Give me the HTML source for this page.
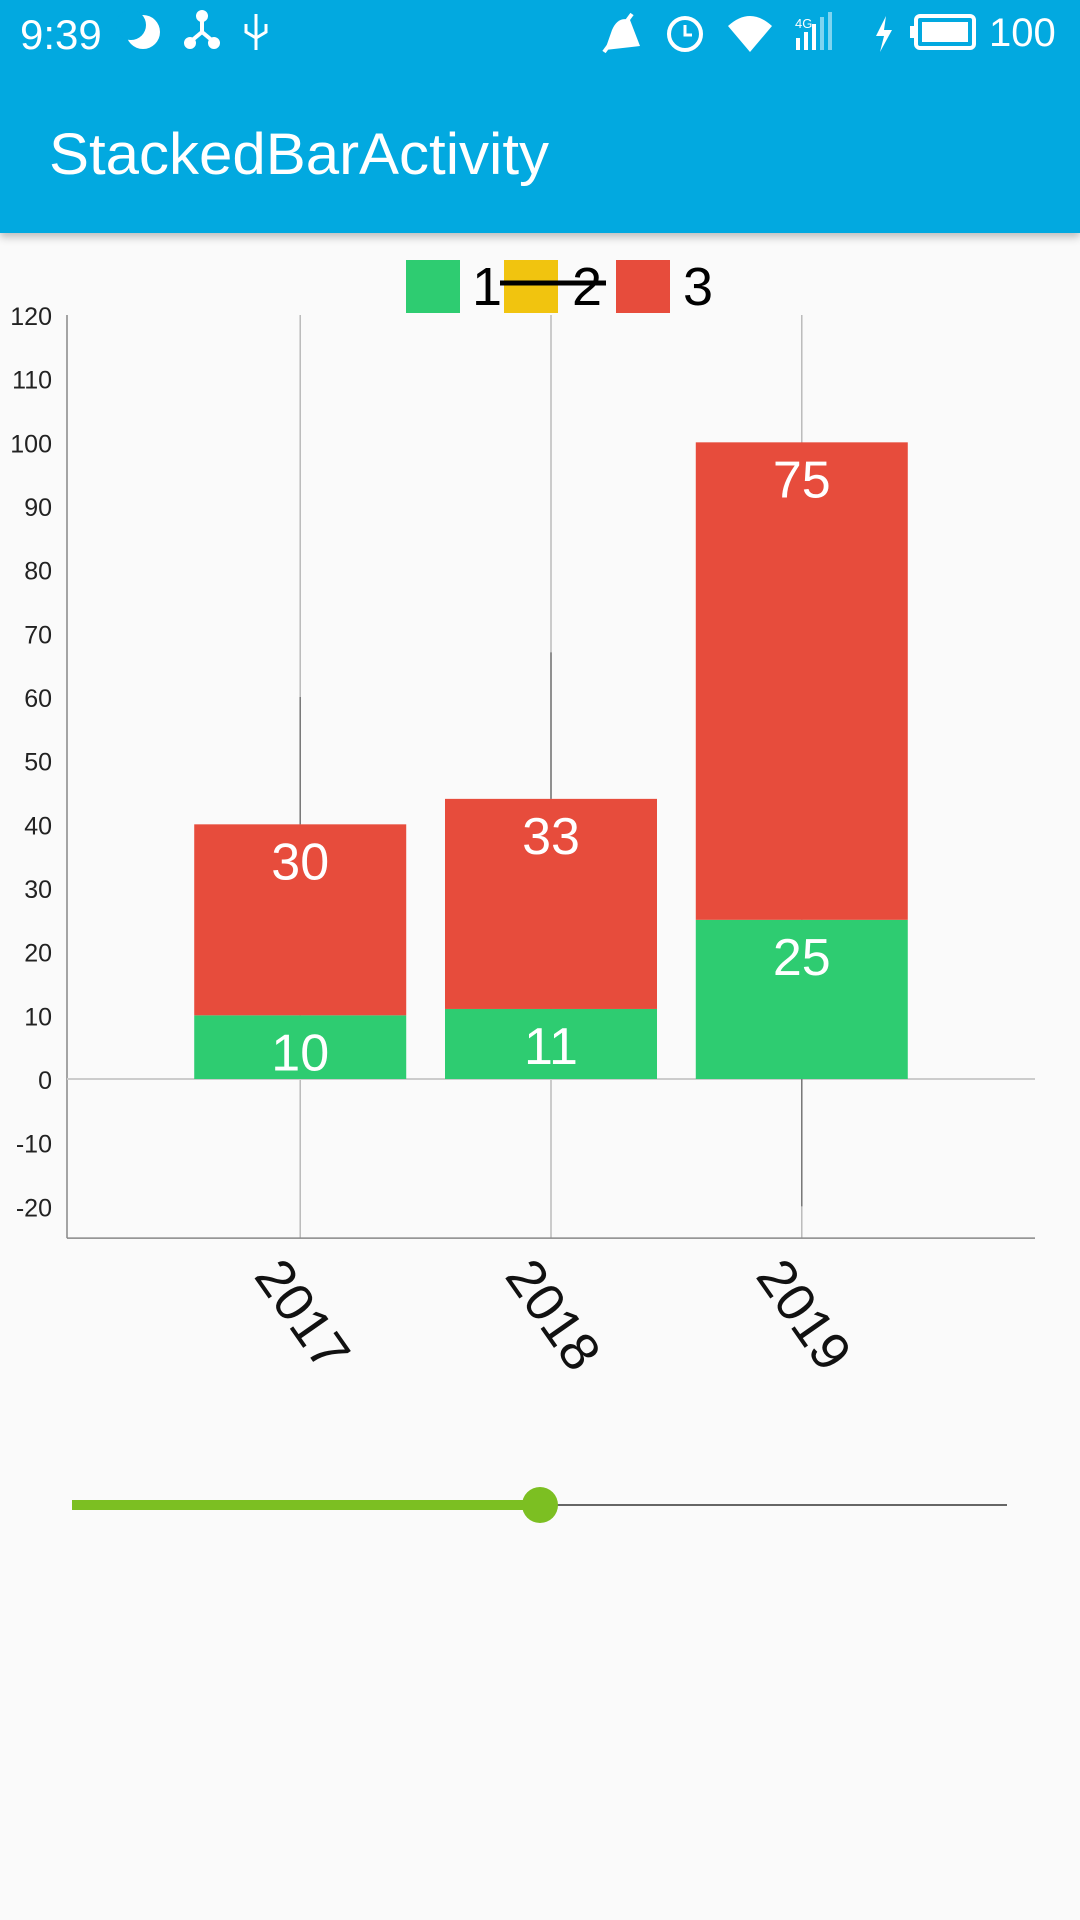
<!DOCTYPE html>
<html><head><meta charset="utf-8">
<style>
html,body{margin:0;padding:0;background:#fafafa;width:1080px;height:1920px;overflow:hidden;font-family:"Liberation Sans",sans-serif;}
#appbar{position:absolute;left:0;top:0;width:1080px;height:233px;background:#02a9e0;box-shadow:0 4px 8px rgba(0,0,0,0.25);}
svg{position:absolute;left:0;top:0;}
</style></head>
<body>
<div id="appbar"></div>
<svg width="1080" height="1920" id="root">
  <g fill="#fff">
    <text x="20" y="49" font-size="42" fill="#fff">9:39</text>
    <circle cx="143" cy="32" r="17" fill="#fff"/>
    <circle cx="131" cy="25" r="15" fill="#02a9e0"/>
    <g stroke="#fff" stroke-width="4">
      <line x1="202" y1="32" x2="202" y2="16"/><line x1="202" y1="32" x2="190" y2="42"/><line x1="202" y1="32" x2="214" y2="42"/>
      <circle cx="202" cy="16" r="4"/><circle cx="190" cy="43" r="4"/><circle cx="214" cy="43" r="4"/>
    </g>
    <g stroke="#fff" stroke-width="3">
      <line x1="256" y1="14" x2="256" y2="50"/><path d="M246 24v8l10 6 10-6v-8" fill="none"/>
    </g>
    <path d="M605 50 L612 30 Q618 16 630 20 L640 46 Z"/>
    <line x1="604" y1="52" x2="632" y2="14" stroke="#fff" stroke-width="4"/>
    <circle cx="685" cy="34" r="16" fill="none" stroke="#fff" stroke-width="4"/>
    <path d="M685 25v10h7" fill="none" stroke="#fff" stroke-width="3"/>
    <path d="M728 26 Q750 6 772 26 L750 52 Z" fill="#fff"/>
    <g>
      <text x="795" y="28" font-size="13" fill="#fff">4G</text>
      <rect x="796" y="38" width="4" height="12"/><rect x="804" y="32" width="4" height="18"/><rect x="812" y="24" width="4" height="26"/>
      <rect x="820" y="17" width="4" height="33" fill="#7fd4f0"/><rect x="828" y="12" width="4" height="38" fill="#7fd4f0"/>
    </g>
    <path d="M886 16 L876 36 L884 36 L880 52 L892 30 L884 30 Z"/>
    <rect x="916" y="16" width="58" height="32" rx="4" fill="none" stroke="#fff" stroke-width="4"/>
    <rect x="922" y="22" width="46" height="20"/><rect x="910" y="26" width="5" height="12"/>
    <text x="989" y="46" font-size="40" fill="#fff">100</text>
  </g>
  <text x="49" y="174" font-size="58" fill="#fff" textLength="500" lengthAdjust="spacingAndGlyphs">StackedBarActivity</text>

  <g>
    <rect x="406" y="260" width="54" height="53" fill="#2ecc71"/>
    <text x="472" y="305" font-size="54" fill="#000">1</text>
    <rect x="504" y="260" width="54" height="53" fill="#f1c40f"/>
    <text x="572" y="305" font-size="54" fill="#000">2</text>
    <line x1="500" y1="283" x2="606" y2="283" stroke="#000" stroke-width="5"/>
    <rect x="616" y="260" width="54" height="53" fill="#e74c3c"/>
    <text x="683" y="305" font-size="54" fill="#000">3</text>
  </g>
  <g id="chart"></g>

  <g>
    <line x1="540" y1="1505" x2="1007" y2="1505" stroke="#666" stroke-width="2"/>
    <line x1="72" y1="1505" x2="540" y2="1505" stroke="#7cbf22" stroke-width="10"/>
    <circle cx="540" cy="1505" r="18" fill="#7cbf22"/>
  </g>
</svg>
<script>
const categories = ["2017","2018","2019"];
const series1 = [10, 11, 25];
const series2 = [0, 0, 0];
const series3 = [30, 33, 75];
const errLow = [40, 44, -20];
const errHigh = [60, 67, 0];
const yTicks = [120,110,100,90,80,70,60,50,40,30,20,10,0,-10,-20];

const NS = "http://www.w3.org/2000/svg";
const chartG = document.getElementById('chart');
const plotLeft = 67, plotRight = 1035, plotTop = 315;
const yMin = -25, xMin = -0.93, xMax = 2.93;
const zeroPx = 1079, perUnit = (1079 - 315) / 120;
function yScale(v){ return zeroPx - v * perUnit; }
function xScale(i){ return plotLeft + (i - xMin) / (xMax - xMin) * (plotRight - plotLeft); }
const barW = 212;
function mk(tag, attrs){ const e = document.createElementNS(NS, tag); for (const k in attrs) e.setAttribute(k, attrs[k]); chartG.appendChild(e); return e; }

yTicks.forEach(t => {
  const e = mk('text', {x: 52, y: yScale(t) + 10, 'font-size': 25, 'text-anchor': 'end', fill: '#222'});
  e.textContent = t;
  
  
});
const yAxis = mk('line', {x1: plotLeft, y1: plotTop, x2: plotLeft, y2: yScale(yMin), stroke: '#888', 'stroke-width': 1.5});


categories.forEach((c, i) => {
  const gl = mk('line', {x1: xScale(i), y1: plotTop, x2: xScale(i), y2: yScale(yMin), stroke: '#bbb', 'stroke-width': 1.5});
  
  
});
const zl = mk('line', {x1: plotLeft, y1: yScale(0), x2: plotRight, y2: yScale(0), stroke: '#ccc', 'stroke-width': 2});


const xAxis = mk('line', {x1: plotLeft, y1: yScale(yMin), x2: plotRight, y2: yScale(yMin), stroke: '#888', 'stroke-width': 1.5});



categories.forEach((c, i) => {
  const cx = xScale(i);
  const eb = mk('line', {x1: cx, y1: yScale(errLow[i]), x2: cx, y2: yScale(errHigh[i]), stroke: '#777', 'stroke-width': 1.5});
  
  
  let base = 0;
  [[series1, '#2ecc71', 's1'], [series2, '#f1c40f', 's2'], [series3, '#e74c3c', 's3']].forEach(([arr, col, nm]) => {
    const v = arr[i];
    if (v <= 0) { return; }
    const r = mk('rect', {x: cx - barW / 2, y: yScale(base + v), width: barW, height: yScale(base) - yScale(base + v), fill: col});
    
    
    const t = mk('text', {x: cx, y: yScale(base + v) + 55, 'font-size': 52, 'text-anchor': 'middle', fill: '#fff'});
    t.textContent = v;
    
    
    base += v;
  });
  const xl = mk('text', {x: 0, y: 0, 'font-size': 54, 'text-anchor': 'middle', fill: '#111', transform: 'translate(' + (cx + 2) + ',1315) rotate(55) translate(0,18)'});
  xl.textContent = c;
  
  
});
</script>
</body></html>
